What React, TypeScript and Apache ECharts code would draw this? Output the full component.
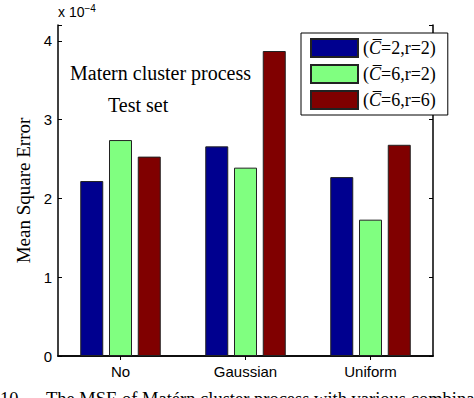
import React, { useEffect, useRef } from "react";
import * as echarts from "echarts";

const categories = ["No", "Gaussian", "Uniform"];
const seriesNames = ["C2r2", "C6r2", "C6r6"];
const legendTails = ["=2,r=2)", "=6,r=2)", "=6,r=6)"];
const valuesC2r2 = [2.22, 2.66, 2.27];
const valuesC6r2 = [2.74, 2.39, 1.73];
const valuesC6r6 = [2.53, 3.87, 2.68];
const yTicks = [0, 1, 2, 3, 4];
const colors = ["#00008F", "#80FF80", "#800000"];

export default function App() {
  const ref = useRef<HTMLDivElement>(null);
  useEffect(() => {
    const chart = echarts.init(ref.current!, null, { renderer: "svg" });
    const serif = "Liberation Serif";
    const sans = "Liberation Sans";
    const data = [valuesC2r2, valuesC6r2, valuesC6r6];
    chart.setOption({
      animation: false,
      backgroundColor: "#fff",
      grid: { left: 58, right: 41, top: 25, bottom: 42, containLabel: false },
      legend: {
        left: 301,
        top: 33,
        orient: "vertical",
        itemWidth: 47,
        itemHeight: 18,
        itemGap: 6,
        padding: [5, 12, 5, 9],
        borderColor: "#000",
        borderWidth: 1,
        backgroundColor: "#fff",
        data: seriesNames.map((n) => ({ name: n, icon: "rect" })),
        formatter: (name: string) => {
          const i = seriesNames.indexOf(name);
          return "({c|C\u0305}" + legendTails[i];
        },
        textStyle: {
          fontFamily: serif,
          fontSize: 18,
          lineHeight: 18,
          color: "#000",
          rich: {
            c: { fontFamily: serif, fontStyle: "italic", fontSize: 18, lineHeight: 18, color: "#000" },
          },
        },
      },
      xAxis: [
        {
          type: "category",
          data: categories,
          position: "bottom",
          axisLine: { lineStyle: { color: "#000", width: 1.5 } },
          axisTick: { show: true, inside: true, alignWithLabel: true, length: 4, lineStyle: { color: "#000" } },
          axisLabel: { fontFamily: sans, fontSize: 15, color: "#000", margin: 8 },
          splitLine: { show: false },
        },
        {
          type: "category",
          data: categories,
          position: "top",
          axisLine: { lineStyle: { color: "#000", width: 1.5 } },
          axisTick: { show: true, inside: true, alignWithLabel: true, length: 4, lineStyle: { color: "#000" } },
          axisLabel: { show: false },
        },
      ],
      yAxis: [
        {
          type: "value",
          min: 0,
          max: 4.2,
          interval: 1,
          position: "left",
          name: "Mean Square Error",
          nameLocation: "middle",
          nameGap: 21,
          nameTextStyle: { fontFamily: serif, fontSize: 19, color: "#000" },
          axisLine: { show: true, lineStyle: { color: "#000", width: 1.5 } },
          axisTick: { show: true, inside: true, length: 4, lineStyle: { color: "#000" } },
          axisLabel: {
            fontFamily: sans,
            fontSize: 15,
            color: "#000",
            margin: 6,
            formatter: (v: number) => (yTicks.indexOf(v) >= 0 ? String(v) : ""),
          },
          splitLine: { show: false },
        },
        {
          type: "value",
          min: 0,
          max: 4.2,
          interval: 1,
          position: "right",
          axisLine: { show: true, lineStyle: { color: "#000", width: 1.5 } },
          axisTick: { show: true, inside: true, length: 4, lineStyle: { color: "#000" } },
          axisLabel: { show: false },
          splitLine: { show: false },
        },
      ],
      series: seriesNames.map((n, i) => ({
        name: n,
        type: "bar",
        data: data[i],
        barWidth: 23,
        barGap: "25%",
        barCategoryGap: "30%",
        itemStyle: { color: colors[i], borderColor: "#222", borderWidth: 1 },
      })),
      graphic: [
        {
          type: "text",
          left: 58,
          top: 3,
          style: {
            text: "x 10{s|\u22124}",
            fontFamily: sans,
            fontSize: 14,
            fill: "#000",
            rich: { s: { fontSize: 10, fontFamily: sans, fill: "#000", verticalAlign: "top", padding: [0, 0, 8, 0] } },
          },
        },
        {
          type: "text",
          left: 70,
          top: 63,
          style: { text: "Matern cluster process", fontFamily: serif, fontSize: 20, fill: "#000" },
        },
        {
          type: "text",
          left: 108,
          top: 95,
          style: { text: "Test set", fontFamily: serif, fontSize: 20, fill: "#000" },
        },
        {
          type: "text",
          left: 0,
          top: 389,
          style: {
            text: "10.     The MSE of Mat\u00e9rn cluster process with various combina",
            fontFamily: serif,
            fontSize: 18.5,
            fill: "#000",
          },
        },
      ],
    });
    return () => chart.dispose();
  }, []);
  return (
    <div
      ref={ref}
      style={{ position: "fixed", left: 0, top: 0, width: 474, height: 398 }}
    />
  );
}
